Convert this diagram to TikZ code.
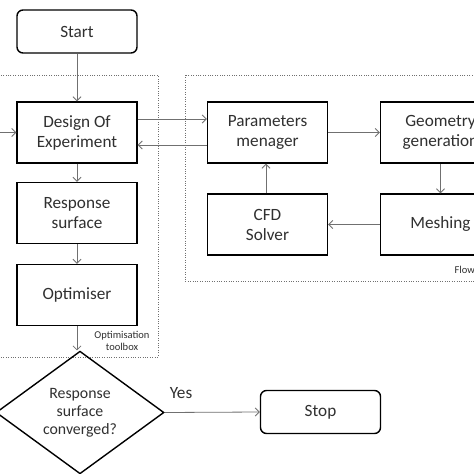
\documentclass[tikz,border=0pt]{standalone}
\usepackage{fontspec}
\setmainfont{Carlito}
\usetikzlibrary{arrows.meta,shapes.geometric}
\definecolor{txt}{HTML}{303030}
\definecolor{ln}{HTML}{707070}
\tikzset{
  box/.style={draw=black,line width=1.4pt,minimum width=120pt,minimum height=61pt,inner sep=0pt,
    align=center,text=txt,font=\fontsize{17.2}{20}\selectfont},
  term/.style={box,rounded corners=6pt,minimum height=43pt},
  dec/.style={draw=black,line width=1.4pt,diamond,minimum width=168pt,minimum height=97pt,inner sep=0pt,
    align=center,text=txt,font=\fontsize{15.8}{18}\selectfont},
  conn/.style={draw=ln,line width=0.8pt,-{Straight Barb[length=4pt,width=8pt,line width=0.8pt]}},
  group/.style={draw=ln,line width=0.9pt,dash pattern=on 1pt off 1.4pt},
  lbl/.style={text=txt,align=center,font=\fontsize{10.5}{12}\selectfont},
}
\begin{document}
\begin{tikzpicture}[x=1pt,y=-1pt]
\useasboundingbox (0,0) rectangle (474,474);
\clip (0,0) rectangle (474,474);
\fill[white] (0,0) rectangle (474,474);
% groups
\draw[group] (-5,75) rectangle (158,357);
\draw[group] (185,75) rectangle (490,281);
\node[lbl] (optlbl) at (122,341) {Optimisation\\toolbox};
\node[lbl,anchor=west] (flowlbl) at (451,270) {Flow};
% nodes
\node[term] (start) at (77,31.5) {Start};
\node[box] (doe) at (77,132.5) {Design Of\\Experiment};
\node[box] (rs) at (77,213) {Response\\surface};
\node[box] (opt) at (77,295) {Optimiser};
\node[dec] (conv) at (80,412.5) {Response\\surface\\converged?};
\node[term] (stop) at (320.5,412) {Stop};
\node[box] (pm) at (267.5,132.5) {Parameters\\menager};
\node[box] (geo) at (440.5,132.5) {Geometry\\generation};
\node[box] (cfd) at (267.5,224.5) {CFD\\Solver};
\node[box] (mesh) at (440.5,224.5) {Meshing};
\coordinate (in) at (0,132.5);
% connectors
\draw[conn] (start) -- (doe);
\draw[conn] (doe) -- (rs);
\draw[conn] (rs) -- (opt);
\draw[conn] (opt.south) -- (opt.south |- conv.north);
\draw[conn] (in) -- (doe.west);
\draw[conn] (doe.east |- 0,119) -- (pm.west |- 0,119);
\draw[conn] (pm.west |- 0,145) -- (doe.east |- 0,145);
\draw[conn] (pm) -- (geo);
\draw[conn] (geo) -- (mesh);
\draw[conn] (mesh) -- (cfd);
\draw[conn] (cfd.north -| 266,0) -- (pm.south -| 266,0);
\draw[conn] (conv.east) -- (stop.west);
\node[text=txt,font=\fontsize{17.2}{20}\selectfont] (yes) at (181,393) {Yes};
\end{tikzpicture}
\end{document}
